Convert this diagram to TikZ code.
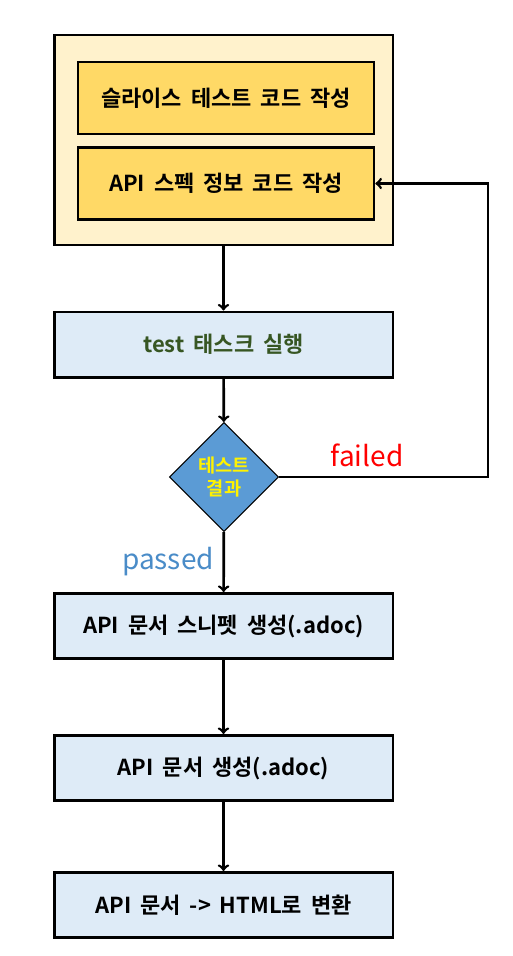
\documentclass[tikz,border=0pt]{standalone}
\usepackage{fontspec}
\setmainfont{Noto Sans CJK KR}[BoldFont={Noto Sans CJK KR Bold},WordSpace=1.8]
\usetikzlibrary{shapes.geometric,arrows}
\definecolor{paleyellow}{HTML}{FFF2CC}
\definecolor{gold}{HTML}{FFD966}
\definecolor{paleblue}{HTML}{DEEBF7}
\definecolor{midblue}{HTML}{5B9BD5}
\definecolor{darkgreen}{HTML}{375623}
\definecolor{passblue}{HTML}{4A8CC8}

\begin{document}
\begin{tikzpicture}[x=0.75pt,y=-0.75pt,line width=2pt,
    stepbox/.style={draw,fill=paleblue,inner sep=0pt,minimum width=254pt,
      minimum height=49pt,font=\bfseries\fontsize{16.5}{19}\selectfont},
    codebox/.style={draw,fill=gold,inner sep=0pt,minimum width=222pt,
      minimum height=54pt,font=\bfseries\fontsize{16.5}{19}\selectfont}]
    \useasboundingbox (0,0) rectangle (513,956);
    \node (0) [draw,fill=paleyellow,inner sep=0pt,minimum width=254pt,
      minimum height=157.5pt] at (223.5,140) {};
    \node (1) [codebox] at (226,98) {슬라이스 테스트 코드 작성};
    \node (2) [codebox] at (226,183.5) {API 스펙 정보 코드 작성};
    \node (3) [stepbox,text=darkgreen] at (223.5,344.5) {test 태스크 실행};
    \node (4) [diamond,aspect=1,draw,line width=0.8pt,fill=midblue,
      inner sep=0pt,minimum size=82pt,text=yellow,align=center,
      font=\bfseries\fontsize{14}{17.5}\selectfont] at (224,477) {테스트\\결과};
    \node (5) [stepbox] at (223.5,626) {API 문서 스니펫 생성(.adoc)};
    \node (6) [stepbox] at (223.5,768) {API 문서 생성(.adoc)};
    \node (7) [stepbox] at (223.5,905) {API 문서 -> HTML로 변환};
    \node (fail) [text=red,font=\fontsize{21}{24}\selectfont] at (367,455) {failed};
    \node (pass) [text=passblue,font=\fontsize{21}{24}\selectfont] at (168,562) {passed};
    \coordinate (turn) at (488,183.5);
    \draw [->] (0) to (3);
    \draw [->] (3) to (4);
    \draw [->] (4) to (5);
    \draw [->] (5) to (6);
    \draw [->] (6) to (7);
    \draw [->] (4.east) -| (turn) -- (2.east);
\end{tikzpicture}
\end{document}
